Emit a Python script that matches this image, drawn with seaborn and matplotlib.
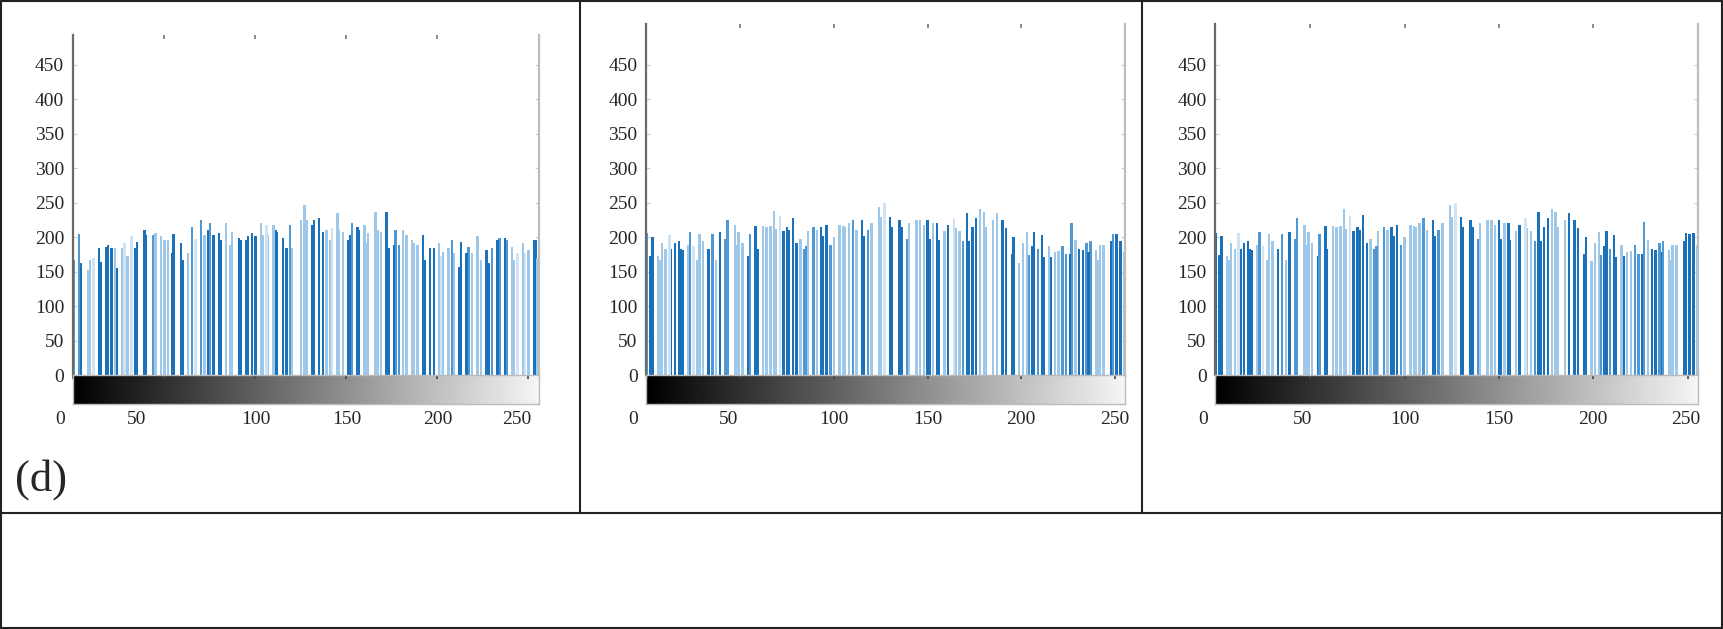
import numpy as np
import pandas as pd
import matplotlib
matplotlib.use("Agg")
import matplotlib.pyplot as plt
import matplotlib.transforms as mtransforms
import seaborn as sns

# grey levels and pixel counts
# shade codes: d = dark blue, m = mid blue, l = light blue, v = very light
levels_a = [0, 3, 4, 8, 9, 11, 14, 15, 18, 19,
            21, 23, 24, 27, 28, 29, 30, 32, 34, 35,
            39, 40, 44, 45, 48, 50, 52, 54, 55, 59,
            60, 63, 65, 67, 70, 72, 74, 75, 77, 80,
            81, 84, 86, 87, 91, 92, 95, 96, 98, 100,
            103, 104, 106, 107, 110, 111, 112, 115, 117, 119,
            120, 125, 127, 128, 131, 132, 135, 137, 139, 141,
            142, 145, 146, 148, 151, 152, 153, 156, 157, 160,
            161, 162, 166, 167, 169, 172, 173, 176, 177, 179,
            181, 183, 186, 187, 189, 192, 193, 196, 198, 201,
            202, 203, 206, 208, 209, 212, 213, 216, 217, 219,
            222, 224, 227, 228, 230, 233, 234, 237, 238, 241,
            242, 244, 247, 248, 250, 253, 254, 255]
counts_a = [167, 204, 162, 152, 167, 169, 184, 164, 185, 189,
            184, 184, 155, 184, 191, 172, 172, 201, 184, 193,
            210, 203, 203, 206, 201, 196, 196, 177, 204, 191,
            167, 177, 214, 197, 225, 203, 210, 220, 203, 206,
            196, 220, 189, 208, 198, 196, 196, 201, 206, 201,
            220, 203, 218, 203, 218, 210, 208, 198, 184, 218,
            184, 225, 247, 225, 218, 225, 227, 208, 210, 196,
            213, 235, 210, 208, 196, 203, 220, 215, 210, 218,
            191, 206, 237, 210, 208, 237, 184, 189, 210, 189,
            210, 203, 196, 191, 189, 203, 167, 184, 184, 191,
            172, 179, 184, 196, 177, 157, 193, 177, 186, 177,
            201, 167, 181, 162, 184, 196, 198, 198, 196, 186,
            167, 177, 191, 177, 181, 196, 196, 169]
shades_a = ("mmdllvdddd" "dldlvllvdd" "ddmllllddd" "dlmvmldmdd" "dllldddddd"
            "llvllddddm" "llllddddll" "vlllddmddl" "llllldddmm" "lllllddddl"
            "vllmldddml" "llddmdmdml" "lvlvlddl")

levels_b = [0, 2, 3, 6, 7, 8, 10, 12, 13, 15,
            17, 18, 19, 22, 23, 25, 27, 28, 30, 33,
            35, 37, 39, 42, 43, 47, 48, 49, 51, 54,
            55, 58, 59, 62, 64, 66, 68, 69, 71, 73,
            75, 76, 78, 80, 82, 84, 85, 86, 89, 91,
            93, 94, 96, 98, 100, 103, 105, 106, 108, 110,
            112, 115, 116, 118, 120, 124, 125, 127, 130, 131,
            135, 136, 139, 140, 144, 146, 148, 150, 151, 153,
            155, 156, 159, 161, 164, 165, 167, 169, 171, 172,
            174, 176, 178, 180, 181, 185, 187, 190, 192, 195,
            196, 199, 201, 203, 204, 206, 207, 209, 211, 212,
            215, 216, 218, 220, 222, 224, 226, 227, 229, 231,
            233, 235, 236, 237, 240, 241, 242, 244, 248, 249,
            251, 253, 255]
counts_b = [206, 173, 200, 172, 167, 191, 183, 203, 183, 191,
            194, 183, 181, 189, 207, 187, 167, 204, 194, 182,
            204, 167, 207, 197, 225, 217, 189, 207, 192, 173,
            205, 216, 182, 216, 215, 216, 238, 211, 230, 209,
            214, 210, 228, 191, 197, 183, 187, 209, 214, 210,
            215, 201, 217, 188, 200, 217, 216, 215, 220, 225,
            210, 225, 201, 210, 220, 244, 229, 249, 229, 215,
            225, 215, 197, 220, 225, 225, 217, 225, 197, 220,
            221, 196, 209, 217, 228, 213, 209, 194, 235, 194,
            215, 228, 240, 237, 215, 225, 235, 225, 213, 176,
            200, 162, 191, 208, 174, 187, 208, 183, 203, 171,
            187, 171, 179, 180, 187, 176, 176, 221, 196, 182,
            181, 191, 179, 195, 181, 167, 189, 188, 194, 205,
            204, 194, 179]
shades_b = ("mddllllvdd" "dddlmvllld" "mldmmlllld" "mddlllllvd" "ddddlmmlml"
            "dddmlllllm" "lddmlllvdd" "ddmllllddl" "ddldvllmdd" "ddlllllddd"
            "dlllmddmdd" "ldllmmdmld" "dmdmlllldm" "ddl")

levels_c = levels_b
counts_c = [206, 174, 201, 172, 167, 191, 183, 206, 183, 191,
            194, 183, 181, 189, 208, 187, 167, 204, 194, 182,
            204, 167, 207, 197, 228, 217, 189, 207, 192, 173,
            205, 216, 182, 216, 215, 216, 240, 211, 230, 209,
            214, 210, 232, 191, 197, 183, 187, 209, 214, 210,
            215, 201, 217, 188, 200, 217, 216, 215, 220, 228,
            210, 225, 201, 210, 220, 247, 229, 250, 229, 215,
            225, 215, 197, 220, 225, 225, 217, 225, 197, 220,
            221, 196, 209, 217, 228, 213, 209, 194, 236, 194,
            215, 228, 241, 237, 215, 225, 235, 225, 213, 176,
            200, 165, 191, 208, 174, 187, 209, 183, 203, 171,
            189, 172, 179, 180, 189, 176, 176, 222, 196, 182,
            181, 191, 179, 195, 181, 167, 189, 188, 194, 206,
            204, 206, 189]
shades_c = ("dddllllvdd" "dddlmvllld" "mldmmlllld" "mddlllllvd" "ddddlmmlml"
            "dddmlllllm" "lddmlllvdd" "ddmllllddl" "ddldvllmdd" "ddlllldddd"
            "dlllmddmdd" "ldllmmdmld" "dmdmlllldd" "ddl")

shade_colors = {"d": "#1a70b9", "m": "#4f98d4", "l": "#9fc7e8", "v": "#cfe3f4"}
y_ticks = list(range(0, 451, 50))
x_ticks = list(range(0, 251, 50))

sns.set_style("white")
plt.rcParams["font.family"] = ["Liberation Serif", "DejaVu Serif"]

W, H = 1723, 629
fig = plt.figure(figsize=(W / 100, H / 100), dpi=100)


def px_box(x0, x1, ytop, ybot):
    return [x0 / W, 1 - ybot / H, (x1 - x0) / W, (ybot - ytop) / H]


def draw_panel(x0, x1, ytop, ybase, ybot, ymax, label_shift, levels, counts, shades):
    ax = fig.add_axes(px_box(x0, x1, ytop, ybase))
    gax = fig.add_axes(px_box(x0, x1, ybase, ybot))
    df = pd.DataFrame({"level": levels, "count": counts, "shade": list(shades)})
    sns.barplot(data=df, x="level", y="count", hue="shade", palette=shade_colors,
                native_scale=True, dodge=False, width=1.3, saturation=1,
                linewidth=0, errorbar=None, legend=False, ax=ax)
    ax.set_xlim(-0.5, 255.5)
    ax.set_ylim(0, ymax)
    ax.set_yticks(y_ticks)
    ax.set_xticks(x_ticks[1:-1])
    ax.set_xlabel("")
    ax.set_ylabel("")
    ax.tick_params(axis="x", bottom=False, top=True, labelbottom=False,
                   direction="in", length=3, width=1.2, color="#777777")
    ax.tick_params(axis="y", left=True, right=True, direction="in", length=3,
                   color="#cccccc", labelsize=14, pad=6)
    for s in ["top", "bottom"]:
        ax.spines[s].set_visible(False)
    ax.spines["left"].set_color("#6a6a6a")
    ax.spines["left"].set_linewidth(1.6)
    ax.spines["right"].set_color("#bdbdbd")
    ax.spines["right"].set_linewidth(1.6)

    # grey-level strip under the histogram
    gax.imshow(np.linspace(0, 1, 256)[None, :], cmap="gray", aspect="auto",
               extent=(-0.5, 255.5, 0, 1), vmin=0, vmax=1.04)
    gax.set_xlim(-0.5, 255.5)
    gax.set_yticks([])
    gax.set_xticks(x_ticks)
    gax.tick_params(axis="x", bottom=False, top=True, direction="in", length=3,
                    width=1.2, color="#444444", labelsize=14, pad=5)
    for s in gax.spines.values():
        s.set_color("#bbbbbb")
        s.set_linewidth(1)
    # the scanned labels for 0 / 50 sit a little left of their ticks
    for lab, dx in zip(gax.get_xticklabels(), label_shift):
        lab.set_transform(lab.get_transform()
                          + mtransforms.ScaledTranslation(dx / 100, 0, fig.dpi_scale_trans))


draw_panel(72.5, 538.5, 35, 375, 404, 493, [-13, -28, 0, 0, 0, -12],
           levels_a, counts_a, shades_a)
draw_panel(646, 1125, 24, 375, 404, 509, [-14, -12, 0, 0, 0, 0],
           levels_b, counts_b, shades_b)
draw_panel(1215, 1698, 24, 375, 404, 509, [-13, -8, 0, 0, 0, -2],
           levels_c, counts_c, shades_c)

fig.text(15 / W, 1 - 480 / H, "(d)", fontsize=32, ha="left", va="center")


# table frame around the panels
def frame_line(xs, ys):
    fig.add_artist(plt.Line2D([x / W for x in xs], [1 - y / H for y in ys],
                              transform=fig.transFigure, color="#222222", lw=1.5))


frame_line([1, 1722], [1, 1])
frame_line([1, 1722], [627.5, 627.5])
frame_line([1, 1], [1, 628])
frame_line([1721.5, 1721.5], [1, 628])
frame_line([1, 1722], [513, 513])
frame_line([580, 580], [1, 513])
frame_line([1142, 1142], [1, 513])

fig.savefig("out.png", dpi=100)
